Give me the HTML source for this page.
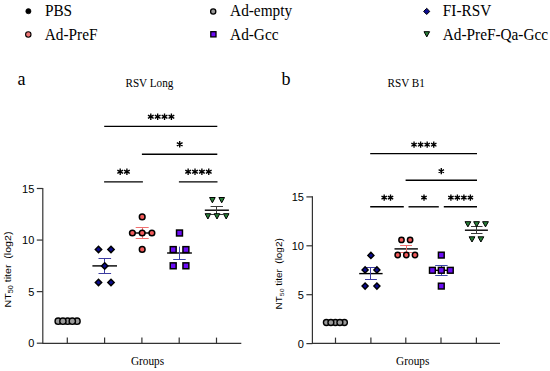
<!DOCTYPE html>
<html><head><meta charset="utf-8"><style>
html,body{margin:0;padding:0;background:#fff;width:550px;height:371px;overflow:hidden}
svg{display:block}
</style></head><body>
<svg width="550" height="371" viewBox="0 0 550 371">
<rect width="550" height="371" fill="#fff"/>
<circle cx="28.40" cy="11.20" r="2.60" fill="#000" stroke="#000" stroke-width="0.6"/>
<text transform="translate(44.90,16.20) scale(1,1.03)" font-family='"Liberation Serif", serif' font-size="15.3" text-anchor="start" font-weight="normal" fill="#000" >PBS</text>
<circle cx="28.30" cy="34.50" r="2.70" fill="#f07878" stroke="#000" stroke-width="1.1"/>
<text transform="translate(44.80,39.50) scale(1,1.03)" font-family='"Liberation Serif", serif' font-size="15.3" text-anchor="start" font-weight="normal" fill="#000" >Ad-PreF</text>
<circle cx="213.20" cy="11.50" r="2.60" fill="#9a9a9a" stroke="#000" stroke-width="1.3"/>
<text transform="translate(230.10,16.00) scale(1,1.03)" font-family='"Liberation Serif", serif' font-size="15.3" text-anchor="start" font-weight="normal" fill="#000" >Ad-empty</text>
<rect x="210.80" y="31.70" width="5.20" height="5.20" fill="#6c0cf6" stroke="#000" stroke-width="1.3"/>
<text transform="translate(230.10,39.50) scale(1,1.03)" font-family='"Liberation Serif", serif' font-size="15.3" text-anchor="start" font-weight="normal" fill="#000" >Ad-Gcc</text>
<path d="M426.70 8.30L429.80 11.40L426.70 14.50L423.60 11.40Z" fill="#0c0c90" stroke="#000" stroke-width="1.0"/>
<text transform="translate(442.80,16.00) scale(1,1.03)" font-family='"Liberation Serif", serif' font-size="15.3" text-anchor="start" font-weight="normal" fill="#000" >FI-RSV</text>
<path d="M424.00 31.70L429.60 31.70L426.80 36.90Z" fill="#287f38" stroke="#000" stroke-width="1.0" stroke-linejoin="miter"/>
<text transform="translate(442.80,39.50) scale(1,1.03)" font-family='"Liberation Serif", serif' font-size="15.3" text-anchor="start" font-weight="normal" fill="#000" >Ad-PreF-Qa-Gcc</text>
<text x="17.60" y="84.80" font-family='"Liberation Serif", serif' font-size="18" text-anchor="start" font-weight="normal" fill="#000" >a</text>
<text x="281.40" y="84.80" font-family='"Liberation Serif", serif' font-size="18" text-anchor="start" font-weight="normal" fill="#000" >b</text>
<line x1="42.80" y1="343.30" x2="241.30" y2="343.30" stroke="#333" stroke-width="1.2"/>
<line x1="42.80" y1="187.90" x2="42.80" y2="343.90" stroke="#333" stroke-width="1.2"/>
<line x1="36.80" y1="343.20" x2="42.80" y2="343.20" stroke="#333" stroke-width="1.2"/>
<text x="34.30" y="347.20" font-family='"Liberation Sans", sans-serif' font-size="11" text-anchor="end" font-weight="normal" fill="#000" >0</text>
<line x1="36.80" y1="291.63" x2="42.80" y2="291.63" stroke="#333" stroke-width="1.2"/>
<text x="34.30" y="295.63" font-family='"Liberation Sans", sans-serif' font-size="11" text-anchor="end" font-weight="normal" fill="#000" >5</text>
<line x1="36.80" y1="240.07" x2="42.80" y2="240.07" stroke="#333" stroke-width="1.2"/>
<text x="34.30" y="244.07" font-family='"Liberation Sans", sans-serif' font-size="11" text-anchor="end" font-weight="normal" fill="#000" >10</text>
<line x1="36.80" y1="188.50" x2="42.80" y2="188.50" stroke="#333" stroke-width="1.2"/>
<text x="34.30" y="192.50" font-family='"Liberation Sans", sans-serif' font-size="11" text-anchor="end" font-weight="normal" fill="#000" >15</text>
<line x1="67.30" y1="337.60" x2="67.30" y2="343.30" stroke="#333" stroke-width="1.2"/>
<line x1="104.60" y1="337.60" x2="104.60" y2="343.30" stroke="#333" stroke-width="1.2"/>
<line x1="141.90" y1="337.60" x2="141.90" y2="343.30" stroke="#333" stroke-width="1.2"/>
<line x1="179.20" y1="337.60" x2="179.20" y2="343.30" stroke="#333" stroke-width="1.2"/>
<line x1="216.50" y1="337.60" x2="216.50" y2="343.30" stroke="#333" stroke-width="1.2"/>
<text transform="translate(149.40,86.90) scale(1,1.12)" font-family='"Liberation Serif", serif' font-size="11.2" text-anchor="middle" font-weight="normal" fill="#000" >RSV Long</text>
<text transform="translate(147.50,365.20) scale(1,1.12)" font-family='"Liberation Serif", serif' font-size="11.3" text-anchor="middle" font-weight="normal" fill="#000" >Groups</text>
<circle cx="58.20" cy="321.20" r="3.15" fill="#9a9a9a" stroke="#000" stroke-width="1.4"/>
<circle cx="67.60" cy="321.20" r="3.15" fill="#9a9a9a" stroke="#000" stroke-width="1.4"/>
<circle cx="77.00" cy="321.20" r="3.15" fill="#9a9a9a" stroke="#000" stroke-width="1.4"/>
<circle cx="62.90" cy="321.20" r="3.15" fill="#9a9a9a" stroke="#000" stroke-width="1.4"/>
<circle cx="72.30" cy="321.20" r="3.15" fill="#9a9a9a" stroke="#000" stroke-width="1.4"/>
<line x1="92.40" y1="265.90" x2="117.00" y2="265.90" stroke="#000" stroke-width="1.4"/>
<line x1="104.50" y1="258.60" x2="104.50" y2="273.20" stroke="#3c3ca0" stroke-width="1.0"/>
<line x1="98.50" y1="258.50" x2="111.10" y2="258.50" stroke="#3c3ca0" stroke-width="1.0"/>
<line x1="98.50" y1="273.50" x2="111.10" y2="273.50" stroke="#3c3ca0" stroke-width="1.0"/>
<path d="M98.50 246.20L101.70 249.40L98.50 252.60L95.30 249.40Z" fill="#0c0c90" stroke="#000" stroke-width="1.45"/>
<path d="M111.00 246.20L114.20 249.40L111.00 252.60L107.80 249.40Z" fill="#0c0c90" stroke="#000" stroke-width="1.45"/>
<path d="M104.70 262.70L107.90 265.90L104.70 269.10L101.50 265.90Z" fill="#0c0c90" stroke="#000" stroke-width="1.45"/>
<path d="M98.50 279.20L101.70 282.40L98.50 285.60L95.30 282.40Z" fill="#0c0c90" stroke="#000" stroke-width="1.45"/>
<path d="M111.00 279.20L114.20 282.40L111.00 285.60L107.80 282.40Z" fill="#0c0c90" stroke="#000" stroke-width="1.45"/>
<line x1="130.00" y1="233.00" x2="154.00" y2="233.00" stroke="#000" stroke-width="1.4"/>
<line x1="142.50" y1="227.90" x2="142.50" y2="238.00" stroke="#f07070" stroke-width="1.0"/>
<line x1="135.70" y1="227.50" x2="148.70" y2="227.50" stroke="#f07070" stroke-width="1.0"/>
<line x1="135.70" y1="238.50" x2="148.70" y2="238.50" stroke="#f07070" stroke-width="1.0"/>
<circle cx="142.20" cy="216.90" r="2.85" fill="#f25a5a" stroke="#000" stroke-width="1.5"/>
<circle cx="132.40" cy="233.00" r="2.85" fill="#f25a5a" stroke="#000" stroke-width="1.5"/>
<circle cx="142.20" cy="233.00" r="2.85" fill="#f25a5a" stroke="#000" stroke-width="1.5"/>
<circle cx="151.90" cy="233.00" r="2.85" fill="#f25a5a" stroke="#000" stroke-width="1.5"/>
<circle cx="142.20" cy="249.40" r="2.85" fill="#f25a5a" stroke="#000" stroke-width="1.5"/>
<line x1="167.10" y1="253.00" x2="191.90" y2="253.00" stroke="#000" stroke-width="1.4"/>
<line x1="179.50" y1="246.60" x2="179.50" y2="259.20" stroke="#3c46a8" stroke-width="1.0"/>
<line x1="173.20" y1="259.50" x2="185.70" y2="259.50" stroke="#3c46a8" stroke-width="1.0"/>
<rect x="176.55" y="230.05" width="5.90" height="5.90" fill="#6c0cf6" stroke="#000" stroke-width="1.5"/>
<rect x="170.25" y="246.65" width="5.90" height="5.90" fill="#6c0cf6" stroke="#000" stroke-width="1.5"/>
<rect x="182.95" y="246.65" width="5.90" height="5.90" fill="#6c0cf6" stroke="#000" stroke-width="1.5"/>
<rect x="170.25" y="262.85" width="5.90" height="5.90" fill="#6c0cf6" stroke="#000" stroke-width="1.5"/>
<rect x="182.95" y="262.85" width="5.90" height="5.90" fill="#6c0cf6" stroke="#000" stroke-width="1.5"/>
<line x1="204.80" y1="210.20" x2="228.90" y2="210.20" stroke="#000" stroke-width="1.4"/>
<line x1="216.50" y1="206.20" x2="216.50" y2="214.00" stroke="#3a3a3a" stroke-width="1.0"/>
<line x1="210.60" y1="206.50" x2="223.00" y2="206.50" stroke="#3a3a3a" stroke-width="1.0"/>
<line x1="210.60" y1="214.50" x2="223.00" y2="214.50" stroke="#3a3a3a" stroke-width="1.0"/>
<path d="M209.60 197.50L215.20 197.50L212.40 202.80Z" fill="#287f38" stroke="#000" stroke-width="1.0" stroke-linejoin="miter"/>
<path d="M218.90 197.50L224.50 197.50L221.70 202.80Z" fill="#287f38" stroke="#000" stroke-width="1.0" stroke-linejoin="miter"/>
<path d="M205.10 213.70L210.70 213.70L207.90 219.00Z" fill="#287f38" stroke="#000" stroke-width="1.0" stroke-linejoin="miter"/>
<path d="M214.20 213.70L219.80 213.70L217.00 219.00Z" fill="#287f38" stroke="#000" stroke-width="1.0" stroke-linejoin="miter"/>
<path d="M223.40 213.70L229.00 213.70L226.20 219.00Z" fill="#287f38" stroke="#000" stroke-width="1.0" stroke-linejoin="miter"/>
<line x1="104.20" y1="126.40" x2="217.30" y2="126.40" stroke="#000" stroke-width="1.4"/>
<path d="M150.79 113.50V120.10M147.94 115.15L153.65 118.45M147.94 118.45L153.65 115.15" stroke="#000" stroke-width="1.35" fill="none"/>
<circle cx="150.79" cy="116.80" r="0.99" fill="#000"/>
<path d="M157.66 113.50V120.10M154.81 115.15L160.52 118.45M154.81 118.45L160.52 115.15" stroke="#000" stroke-width="1.35" fill="none"/>
<circle cx="157.66" cy="116.80" r="0.99" fill="#000"/>
<path d="M164.53 113.50V120.10M161.68 115.15L167.39 118.45M161.68 118.45L167.39 115.15" stroke="#000" stroke-width="1.35" fill="none"/>
<circle cx="164.53" cy="116.80" r="0.99" fill="#000"/>
<path d="M171.40 113.50V120.10M168.55 115.15L174.26 118.45M168.55 118.45L174.26 115.15" stroke="#000" stroke-width="1.35" fill="none"/>
<circle cx="171.40" cy="116.80" r="0.99" fill="#000"/>
<line x1="141.90" y1="154.20" x2="217.30" y2="154.20" stroke="#000" stroke-width="1.4"/>
<path d="M179.70 141.00V147.60M176.84 142.65L182.56 145.95M176.84 145.95L182.56 142.65" stroke="#000" stroke-width="1.35" fill="none"/>
<circle cx="179.70" cy="144.30" r="0.99" fill="#000"/>
<line x1="104.10" y1="181.90" x2="142.90" y2="181.90" stroke="#000" stroke-width="1.4"/>
<path d="M120.20 168.50V175.10M117.34 170.15L123.06 173.45M117.34 173.45L123.06 170.15" stroke="#000" stroke-width="1.35" fill="none"/>
<circle cx="120.20" cy="171.80" r="0.99" fill="#000"/>
<path d="M126.90 168.50V175.10M124.04 170.15L129.76 173.45M124.04 173.45L129.76 170.15" stroke="#000" stroke-width="1.35" fill="none"/>
<circle cx="126.90" cy="171.80" r="0.99" fill="#000"/>
<line x1="178.90" y1="181.90" x2="217.50" y2="181.90" stroke="#000" stroke-width="1.4"/>
<path d="M188.14 168.50V175.10M185.29 170.15L191.00 173.45M185.29 173.45L191.00 170.15" stroke="#000" stroke-width="1.35" fill="none"/>
<circle cx="188.14" cy="171.80" r="0.99" fill="#000"/>
<path d="M195.01 168.50V175.10M192.16 170.15L197.87 173.45M192.16 173.45L197.87 170.15" stroke="#000" stroke-width="1.35" fill="none"/>
<circle cx="195.01" cy="171.80" r="0.99" fill="#000"/>
<path d="M201.88 168.50V175.10M199.03 170.15L204.74 173.45M199.03 173.45L204.74 170.15" stroke="#000" stroke-width="1.35" fill="none"/>
<circle cx="201.88" cy="171.80" r="0.99" fill="#000"/>
<path d="M208.75 168.50V175.10M205.90 170.15L211.61 173.45M205.90 173.45L211.61 170.15" stroke="#000" stroke-width="1.35" fill="none"/>
<circle cx="208.75" cy="171.80" r="0.99" fill="#000"/>
<text transform="translate(11.3,307.4) rotate(-90) scale(1,0.9)" font-family='"Liberation Sans", sans-serif' font-size="10.6" fill="#000" xml:space="preserve">NT<tspan font-size="7.31" dy="2">50</tspan><tspan dy="-2"> titer  (log2)</tspan></text>
<line x1="312.40" y1="343.30" x2="500.00" y2="343.30" stroke="#333" stroke-width="1.2"/>
<line x1="312.40" y1="196.30" x2="312.40" y2="343.90" stroke="#333" stroke-width="1.2"/>
<line x1="306.40" y1="343.60" x2="312.40" y2="343.60" stroke="#333" stroke-width="1.2"/>
<text x="303.90" y="347.60" font-family='"Liberation Sans", sans-serif' font-size="11" text-anchor="end" font-weight="normal" fill="#000" >0</text>
<line x1="306.40" y1="294.70" x2="312.40" y2="294.70" stroke="#333" stroke-width="1.2"/>
<text x="303.90" y="298.70" font-family='"Liberation Sans", sans-serif' font-size="11" text-anchor="end" font-weight="normal" fill="#000" >5</text>
<line x1="306.40" y1="245.80" x2="312.40" y2="245.80" stroke="#333" stroke-width="1.2"/>
<text x="303.90" y="249.80" font-family='"Liberation Sans", sans-serif' font-size="11" text-anchor="end" font-weight="normal" fill="#000" >10</text>
<line x1="306.40" y1="196.90" x2="312.40" y2="196.90" stroke="#333" stroke-width="1.2"/>
<text x="303.90" y="200.90" font-family='"Liberation Sans", sans-serif' font-size="11" text-anchor="end" font-weight="normal" fill="#000" >15</text>
<line x1="335.50" y1="337.60" x2="335.50" y2="343.30" stroke="#333" stroke-width="1.2"/>
<line x1="370.90" y1="337.60" x2="370.90" y2="343.30" stroke="#333" stroke-width="1.2"/>
<line x1="405.80" y1="337.60" x2="405.80" y2="343.30" stroke="#333" stroke-width="1.2"/>
<line x1="441.00" y1="337.60" x2="441.00" y2="343.30" stroke="#333" stroke-width="1.2"/>
<line x1="476.40" y1="337.60" x2="476.40" y2="343.30" stroke="#333" stroke-width="1.2"/>
<text transform="translate(406.20,86.90) scale(1,1.12)" font-family='"Liberation Serif", serif' font-size="11.2" text-anchor="middle" font-weight="normal" fill="#000" >RSV B1</text>
<text transform="translate(412.70,365.20) scale(1,1.12)" font-family='"Liberation Serif", serif' font-size="11.3" text-anchor="middle" font-weight="normal" fill="#000" >Groups</text>
<circle cx="326.40" cy="322.50" r="2.95" fill="#9a9a9a" stroke="#000" stroke-width="1.4"/>
<circle cx="335.40" cy="322.50" r="2.95" fill="#9a9a9a" stroke="#000" stroke-width="1.4"/>
<circle cx="344.40" cy="322.50" r="2.95" fill="#9a9a9a" stroke="#000" stroke-width="1.4"/>
<circle cx="330.90" cy="322.50" r="2.95" fill="#9a9a9a" stroke="#000" stroke-width="1.4"/>
<circle cx="339.90" cy="322.50" r="2.95" fill="#9a9a9a" stroke="#000" stroke-width="1.4"/>
<line x1="359.20" y1="273.60" x2="382.60" y2="273.60" stroke="#000" stroke-width="1.4"/>
<line x1="370.50" y1="267.90" x2="370.50" y2="279.30" stroke="#3c3ca0" stroke-width="1.0"/>
<line x1="365.00" y1="267.50" x2="376.90" y2="267.50" stroke="#3c3ca0" stroke-width="1.0"/>
<line x1="365.00" y1="279.50" x2="376.90" y2="279.50" stroke="#3c3ca0" stroke-width="1.0"/>
<path d="M370.90 252.35L373.95 255.40L370.90 258.45L367.85 255.40Z" fill="#0c0c90" stroke="#000" stroke-width="1.4"/>
<path d="M365.10 266.85L368.15 269.90L365.10 272.95L362.05 269.90Z" fill="#0c0c90" stroke="#000" stroke-width="1.4"/>
<path d="M376.90 266.85L379.95 269.90L376.90 272.95L373.85 269.90Z" fill="#0c0c90" stroke="#000" stroke-width="1.4"/>
<path d="M365.10 283.05L368.15 286.10L365.10 289.15L362.05 286.10Z" fill="#0c0c90" stroke="#000" stroke-width="1.4"/>
<path d="M376.90 283.05L379.95 286.10L376.90 289.15L373.85 286.10Z" fill="#0c0c90" stroke="#000" stroke-width="1.4"/>
<line x1="394.50" y1="248.90" x2="417.90" y2="248.90" stroke="#000" stroke-width="1.4"/>
<line x1="406.50" y1="245.20" x2="406.50" y2="252.50" stroke="#f07070" stroke-width="1.0"/>
<line x1="400.10" y1="245.50" x2="412.00" y2="245.50" stroke="#f07070" stroke-width="1.0"/>
<line x1="400.10" y1="252.50" x2="412.00" y2="252.50" stroke="#f07070" stroke-width="1.0"/>
<circle cx="401.50" cy="239.90" r="2.65" fill="#f25a5a" stroke="#000" stroke-width="1.5"/>
<circle cx="410.10" cy="239.90" r="2.65" fill="#f25a5a" stroke="#000" stroke-width="1.5"/>
<circle cx="397.70" cy="255.00" r="2.65" fill="#f25a5a" stroke="#000" stroke-width="1.5"/>
<circle cx="406.30" cy="255.00" r="2.65" fill="#f25a5a" stroke="#000" stroke-width="1.5"/>
<circle cx="415.00" cy="255.00" r="2.65" fill="#f25a5a" stroke="#000" stroke-width="1.5"/>
<line x1="429.50" y1="270.30" x2="453.00" y2="270.30" stroke="#000" stroke-width="1.4"/>
<line x1="441.50" y1="265.50" x2="441.50" y2="275.30" stroke="#3c46a8" stroke-width="1.0"/>
<line x1="435.20" y1="265.50" x2="447.60" y2="265.50" stroke="#3c46a8" stroke-width="1.0"/>
<line x1="435.20" y1="275.50" x2="447.60" y2="275.50" stroke="#3c46a8" stroke-width="1.0"/>
<rect x="438.40" y="252.20" width="5.80" height="5.80" fill="#6c0cf6" stroke="#000" stroke-width="1.45"/>
<rect x="429.50" y="267.40" width="5.80" height="5.80" fill="#6c0cf6" stroke="#000" stroke-width="1.45"/>
<rect x="438.40" y="267.40" width="5.80" height="5.80" fill="#6c0cf6" stroke="#000" stroke-width="1.45"/>
<rect x="447.40" y="267.40" width="5.80" height="5.80" fill="#6c0cf6" stroke="#000" stroke-width="1.45"/>
<rect x="438.40" y="283.20" width="5.80" height="5.80" fill="#6c0cf6" stroke="#000" stroke-width="1.45"/>
<line x1="464.90" y1="230.20" x2="487.90" y2="230.20" stroke="#000" stroke-width="1.4"/>
<line x1="476.50" y1="226.40" x2="476.50" y2="233.90" stroke="#3a3a3a" stroke-width="1.0"/>
<line x1="471.00" y1="226.50" x2="482.50" y2="226.50" stroke="#3a3a3a" stroke-width="1.0"/>
<line x1="471.00" y1="233.50" x2="482.50" y2="233.50" stroke="#3a3a3a" stroke-width="1.0"/>
<path d="M465.00 221.70L470.80 221.70L467.90 226.90Z" fill="#287f38" stroke="#000" stroke-width="1.0" stroke-linejoin="miter"/>
<path d="M473.70 221.70L479.50 221.70L476.60 226.90Z" fill="#287f38" stroke="#000" stroke-width="1.0" stroke-linejoin="miter"/>
<path d="M482.60 221.70L488.40 221.70L485.50 226.90Z" fill="#287f38" stroke="#000" stroke-width="1.0" stroke-linejoin="miter"/>
<path d="M469.10 236.80L474.90 236.80L472.00 242.00Z" fill="#287f38" stroke="#000" stroke-width="1.0" stroke-linejoin="miter"/>
<path d="M478.00 236.80L483.80 236.80L480.90 242.00Z" fill="#287f38" stroke="#000" stroke-width="1.0" stroke-linejoin="miter"/>
<line x1="370.20" y1="153.60" x2="477.00" y2="153.60" stroke="#000" stroke-width="1.4"/>
<path d="M414.04 141.60V147.80M411.36 143.15L416.73 146.25M411.36 146.25L416.73 143.15" stroke="#000" stroke-width="1.35" fill="none"/>
<circle cx="414.04" cy="144.70" r="0.93" fill="#000"/>
<path d="M420.61 141.60V147.80M417.93 143.15L423.30 146.25M417.93 146.25L423.30 143.15" stroke="#000" stroke-width="1.35" fill="none"/>
<circle cx="420.61" cy="144.70" r="0.93" fill="#000"/>
<path d="M427.18 141.60V147.80M424.50 143.15L429.87 146.25M424.50 146.25L429.87 143.15" stroke="#000" stroke-width="1.35" fill="none"/>
<circle cx="427.18" cy="144.70" r="0.93" fill="#000"/>
<path d="M433.75 141.60V147.80M431.07 143.15L436.44 146.25M431.07 146.25L436.44 143.15" stroke="#000" stroke-width="1.35" fill="none"/>
<circle cx="433.75" cy="144.70" r="0.93" fill="#000"/>
<line x1="405.60" y1="180.20" x2="477.00" y2="180.20" stroke="#000" stroke-width="1.4"/>
<path d="M441.30 168.10V174.30M438.62 169.65L443.98 172.75M438.62 172.75L443.98 169.65" stroke="#000" stroke-width="1.35" fill="none"/>
<circle cx="441.30" cy="171.20" r="0.93" fill="#000"/>
<line x1="370.20" y1="206.80" x2="403.80" y2="206.80" stroke="#000" stroke-width="1.4"/>
<path d="M384.18 194.50V200.70M381.49 196.05L386.86 199.15M381.49 199.15L386.86 196.05" stroke="#000" stroke-width="1.35" fill="none"/>
<circle cx="384.18" cy="197.60" r="0.93" fill="#000"/>
<path d="M390.53 194.50V200.70M387.84 196.05L393.21 199.15M387.84 199.15L393.21 196.05" stroke="#000" stroke-width="1.35" fill="none"/>
<circle cx="390.53" cy="197.60" r="0.93" fill="#000"/>
<line x1="408.50" y1="206.80" x2="438.80" y2="206.80" stroke="#000" stroke-width="1.4"/>
<path d="M424.00 194.50V200.70M421.32 196.05L426.68 199.15M421.32 199.15L426.68 196.05" stroke="#000" stroke-width="1.35" fill="none"/>
<circle cx="424.00" cy="197.60" r="0.93" fill="#000"/>
<line x1="443.80" y1="206.80" x2="477.00" y2="206.80" stroke="#000" stroke-width="1.4"/>
<path d="M450.90 194.50V200.70M448.22 196.05L453.58 199.15M448.22 199.15L453.58 196.05" stroke="#000" stroke-width="1.35" fill="none"/>
<circle cx="450.90" cy="197.60" r="0.93" fill="#000"/>
<path d="M457.40 194.50V200.70M454.72 196.05L460.08 199.15M454.72 199.15L460.08 196.05" stroke="#000" stroke-width="1.35" fill="none"/>
<circle cx="457.40" cy="197.60" r="0.93" fill="#000"/>
<path d="M463.90 194.50V200.70M461.22 196.05L466.58 199.15M461.22 199.15L466.58 196.05" stroke="#000" stroke-width="1.35" fill="none"/>
<circle cx="463.90" cy="197.60" r="0.93" fill="#000"/>
<path d="M470.40 194.50V200.70M467.72 196.05L473.08 199.15M467.72 199.15L473.08 196.05" stroke="#000" stroke-width="1.35" fill="none"/>
<circle cx="470.40" cy="197.60" r="0.93" fill="#000"/>
<text transform="translate(282.1,309.4) rotate(-90) scale(1,0.9)" font-family='"Liberation Sans", sans-serif' font-size="9.95" fill="#000" xml:space="preserve">NT<tspan font-size="6.87" dy="2">50</tspan><tspan dy="-2"> titer  (log2)</tspan></text>
</svg>
</body></html>
